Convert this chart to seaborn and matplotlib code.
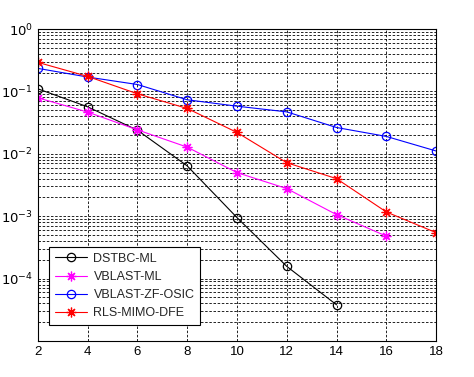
import numpy as np
import pandas as pd
import matplotlib
matplotlib.use("Agg")
import matplotlib.pyplot as plt
import seaborn as sns
from matplotlib.ticker import LogLocator, NullFormatter, FixedLocator

snr = [2, 4, 6, 8, 10, 12, 14, 16, 18]
dstbc_ml = [0.110, 0.0566, 0.0239, 0.0064, 0.00095, 1.57e-4, 3.8e-5]
vblast_ml = [0.079, 0.0466, 0.0242, 0.0128, 0.0050, 0.00277, 0.00106, 4.8e-4]
vblast_zf = [0.234, 0.170, 0.129, 0.0734, 0.058, 0.047, 0.0264, 0.019, 0.0111]
rls_dfe = [0.292, 0.174, 0.0916, 0.0533, 0.022, 0.0072, 0.0040, 0.00117, 5.45e-4]

series = [
    ("DSTBC-ML", dstbc_ml, "black", "o"),
    ("VBLAST-ML", vblast_ml, "magenta", "*"),
    ("VBLAST-ZF-OSIC", vblast_zf, "blue", "o"),
    ("RLS-MIMO-DFE", rls_dfe, "red", "*"),
]

sns.set_style("white")
plt.rcParams["font.family"] = ["Liberation Sans", "DejaVu Sans"]

fig = plt.figure(figsize=(4.74, 3.77), dpi=100)
ax = fig.add_axes([0.080, 0.0955, 0.840, 0.8275])

for name, vals, col, mk in series:
    df = pd.DataFrame({"snr": snr[:len(vals)], "ber": vals})
    m = "o" if mk == "o" else (8, 2, 0)
    sns.lineplot(data=df, x="snr", y="ber", ax=ax, color=col, marker=m,
                 markersize=6 if mk == "o" else 7, markerfacecolor="none",
                 markeredgecolor=col, markeredgewidth=0.9, linewidth=0.8, label=name)

ax.set_yscale("log")
ax.set_xlim(2, 18)
ax.set_ylim(1e-5, 1)
ax.set_xticks(snr)
ax.set_xticklabels([str(s) for s in snr], fontsize=9.5)
ax.yaxis.set_major_locator(FixedLocator([1e-5, 1e-4, 1e-3, 1e-2, 1e-1, 1e0]))
ax.set_yticklabels(["", r"$10^{-4}$", r"$10^{-3}$", r"$10^{-2}$", r"$10^{-1}$", r"$10^{0}$"], fontsize=9.5)
ax.yaxis.set_minor_locator(LogLocator(base=10, subs=np.arange(2, 10)))
ax.yaxis.set_minor_formatter(NullFormatter())
ax.set_xlabel("")
ax.set_ylabel("")
ax.tick_params(direction="in", which="both", length=3, width=0.6, colors="black", labelsize=9.5)
ax.tick_params(which="minor", length=2)
ax.grid(True, which="major", axis="both", color="black", linestyle=(0, (3, 2)), linewidth=0.6)
ax.grid(True, which="minor", axis="y", color="black", linestyle=(0, (3, 2)), linewidth=0.6)
for s in ax.spines.values():
    s.set_color("black")
    s.set_linewidth(0.8)

leg = ax.legend(loc="lower left", fontsize=9, frameon=True, fancybox=False,
                edgecolor="black", framealpha=1, borderpad=0.45, labelspacing=0.5,
                handlelength=2.6, handletextpad=0.5, bbox_to_anchor=(0.028, 0.051),
                borderaxespad=0)
leg.get_frame().set_linewidth(0.8)

fig.savefig("out.png", dpi=100)
